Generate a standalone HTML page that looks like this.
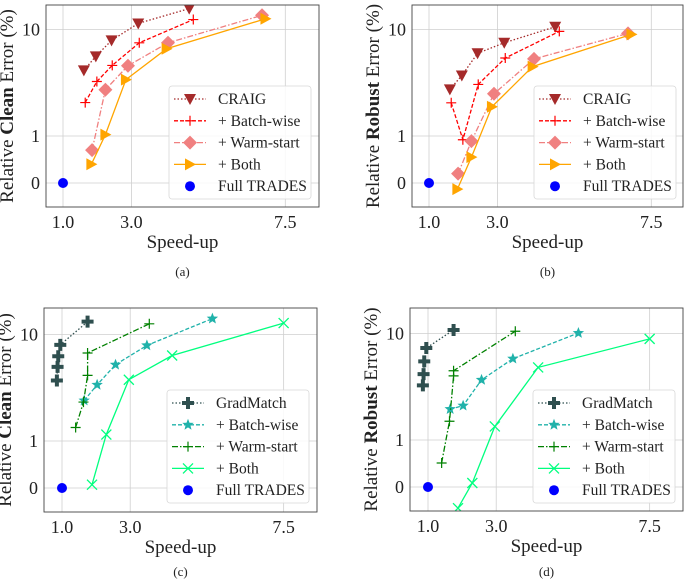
<!DOCTYPE html>
<html><head><meta charset="utf-8"><style>
html,body{margin:0;padding:0;background:#fff}
svg{display:block;font-family:"Liberation Serif",serif}
</style></head><body>
<svg id="fig" width="685" height="585" viewBox="0 0 685 585" xmlns="http://www.w3.org/2000/svg"></svg>
<script>
// ---- data ----
const xTicks=[1.0,3.0,7.5];
const xTickLabels=["1.0","3.0","7.5"];
const yTicks=[0,1,10];
const yTickLabels=["0","1","10"];
const craigX=[1.61,1.96,2.42,3.20,4.69];
const craigCleanY=[4.13,5.6,7.9,11.4,15.7];
const craigRobustY=[2.74,3.7,5.98,7.5,10.6];
const cBatchX=[1.65,1.99,2.44,3.23,4.81];
const cBatchCleanY=[2.06,3.25,4.6,7.5,12.4];
const cBatchRobustY=[2.05,0.92,3.05,5.4,9.6];
const cWarmX=[1.85,2.24,2.90,4.07,6.82];
const cWarmCleanY=[0.70,2.72,4.57,7.5,13.6];
const cWarmRobustY=[0.20,0.89,2.49,5.3,9.2];
const cBothX=[1.83,2.24,2.84,4.03,6.92];
const cBothCleanY=[0.40,1.03,3.38,6.6,12.6];
const cBothRobustY=[-0.13,0.55,1.88,4.48,9.0];
const gmX=[0.85,0.87,0.89,0.95,1.75];
const gmCleanY=[3.7,4.97,6.25,8.0,13.2];
const gmRobustY=[3.26,4.16,5.47,7.3,10.8];
const gBatchX=[1.65,2.03,2.57,3.49,5.41];
const gBatchCleanY=[2.4,3.37,5.2,7.9,14.1];
const gBatchRobustY=[1.95,2.10,3.67,5.8,10.1];
const gWarmX=[1.40,1.63,1.75,1.75,3.56];
const gWarmCleanY=[1.34,2.32,4.13,6.7,12.6];
const gWarmRobustY=[0.51,1.5,4.0,4.47,10.5];
const gBothX=[1.88,2.30,2.96,4.23,7.5];
const gBothCleanY=[0.07,1.15,3.76,6.35,12.8];
const gBothRobustY=[-0.45,0.085,1.34,4.8,8.9];
const fullX=[1.0];
const fullY=[0];

const NS="http://www.w3.org/2000/svg";
const svg=document.getElementById('fig');
function el(t,a,p){const e=document.createElementNS(NS,t);for(const k in a)e.setAttribute(k,a[k]);(p||svg).appendChild(e);return e;}

function marker(g,type,cx,cy,color){
  let m;
  if(type==='tri-down'){m=el('polygon',{points:`${cx-6},${cy-5} ${cx+6},${cy-5} ${cx},${cy+6}`,fill:color},g);}
  else if(type==='tri-right'){m=el('polygon',{points:`${cx-5},${cy-6} ${cx-5},${cy+6} ${cx+6},${cy}`,fill:color},g);}
  else if(type==='diamond'){m=el('polygon',{points:`${cx},${cy-7} ${cx+7},${cy} ${cx},${cy+7} ${cx-7},${cy}`,fill:color},g);}
  else if(type==='plus'){m=el('path',{d:`M${cx-5},${cy}H${cx+5}M${cx},${cy-5}V${cy+5}`,stroke:color,'stroke-width':1.2,fill:'none'},g);}
  else if(type==='P'){m=el('path',{d:`M${cx-2},${cy-6}h4v4h4v4h-4v4h-4v-4h-4v-4h4z`,fill:color},g);}
  else if(type==='star'){let p=[];for(let i=0;i<10;i++){const r=i%2?2.6:6,a=-Math.PI/2+i*Math.PI/5;p.push((cx+r*Math.cos(a)).toFixed(1)+','+(cy+r*Math.sin(a)).toFixed(1));}m=el('polygon',{points:p.join(' '),fill:color},g);}
  else if(type==='x'){m=el('path',{d:`M${cx-5},${cy-5}L${cx+5},${cy+5}M${cx-5},${cy+5}L${cx+5},${cy-5}`,stroke:color,'stroke-width':1.3,fill:'none'},g);}
  else if(type==='circle'){m=el('circle',{cx:cx,cy:cy,r:5,fill:color},g);}
  return m;
}

function panel(p){
  const g=el('g',{});
  
  
  const [L,T,R,B]=p.box;
  const sx=v=>p.x1+(v-1)*p.xk;
  const sy=v=>p.y0-(v<1? v*47 : 47+Math.log10(v)*106.5);
  const cid='clip'+p.id;
  const cp=el('clipPath',{id:cid},g);el('rect',{x:L,y:T,width:R-L,height:B-T},cp);
  xTicks.forEach((t,i)=>{
    const gl=el('line',{x1:sx(t),x2:sx(t),y1:T,y2:B,stroke:'#cfcfcf','stroke-width':0.8},g);
    
    const tl=el('text',{x:sx(t),y:B+21,'text-anchor':'middle','font-size':18,fill:'#222'},g);tl.textContent=xTickLabels[i];
    
  });
  yTicks.forEach((t,i)=>{
    const gl=el('line',{x1:L,x2:R,y1:sy(t),y2:sy(t),stroke:'#cfcfcf','stroke-width':0.8},g);
    
    const tl=el('text',{x:L-6,y:sy(t)+6,'text-anchor':'end','font-size':18,fill:'#222'},g);tl.textContent=yTickLabels[i];
    
  });
  const plot=el('g',{'clip-path':`url(#${cid})`},g);
  p.series.forEach(s=>{
    const sg=el('g',{},plot);
    
    if(s.dash!==null){
      const pts=s.x.map((v,i)=>sx(v).toFixed(1)+','+sy(s.y[i]).toFixed(1)).join(' ');
      const pl=el('polyline',{points:pts,fill:'none',stroke:s.color,'stroke-width':1.3,'stroke-dasharray':s.dash},sg);
      
    }
    s.x.forEach((v,i)=>{const m=marker(sg,s.m,sx(v),sy(s.y[i]),s.color);
      });
  });
  const fr=el('rect',{x:L,y:T,width:R-L,height:B-T,fill:'none',stroke:'#444','stroke-width':0.9},g);
  
  const [lx,ly,lw,lh]=p.leg;
  const lg=el('g',{},g);
  
  el('rect',{x:lx,y:ly,width:lw,height:lh,rx:3,fill:'rgba(255,255,255,0.85)',stroke:'#d8d8d8','stroke-width':0.8},lg);
  p.series.forEach((s,i)=>{
    const ey=ly+13+i*21.8;
    const eg=el('g',{},lg);
    
    if(s.dash!==null) el('line',{x1:lx+5,x2:lx+37,y1:ey,y2:ey,stroke:s.color,'stroke-width':1.3,'stroke-dasharray':s.dash},eg);
    marker(eg,s.m,lx+21,ey,s.color);
    const t=el('text',{x:lx+49,y:ey+5,'font-size':15.5,fill:'#222'},eg);t.textContent=s.label;
  });
  const xt=el('text',{x:(L+R)/2,y:B+41,'text-anchor':'middle','font-size':19,fill:'#222'},g);xt.textContent='Speed-up';
  
  const yx=L-33,yy=(T+B)/2;
  const yt=el('text',{x:yx,y:yy,'text-anchor':'middle','font-size':19,fill:'#222',transform:`rotate(-90 ${yx} ${yy})`},g);
  
  const a=el('tspan',{},yt);a.textContent='Relative ';
  const b=el('tspan',{'font-weight':'bold'},yt);b.textContent=p.kind;
  const c=el('tspan',{},yt);c.textContent=' Error (%)';
  const cap=el('text',{x:(L+R)/2,y:p.capY,'text-anchor':'middle','font-size':13,fill:'#222'},g);cap.textContent=p.cap;
  
}
function craigSeries(kind){
  const cl=kind==='Clean';
  return [
    {key:'craig',label:'CRAIG',x:craigX,y:cl?craigCleanY:craigRobustY,color:'#a52a2a',m:'tri-down',dash:'1.5,2'},
    {key:'batch-wise',label:'+ Batch-wise',x:cBatchX,y:cl?cBatchCleanY:cBatchRobustY,color:'#ff0000',m:'plus',dash:'4,2'},
    {key:'warm-start',label:'+ Warm-start',x:cWarmX,y:cl?cWarmCleanY:cWarmRobustY,color:'#f08080',m:'diamond',dash:'6,2,1.5,2'},
    {key:'both',label:'+ Both',x:cBothX,y:cl?cBothCleanY:cBothRobustY,color:'#ffa500',m:'tri-right',dash:'none'},
    {key:'full-trades',label:'Full TRADES',x:fullX,y:fullY,color:'#0000ff',m:'circle',dash:null}];
}
function gmSeries(kind){
  const cl=kind==='Clean';
  return [
    {key:'gradmatch',label:'GradMatch',x:gmX,y:cl?gmCleanY:gmRobustY,color:'#2f4f4f',m:'P',dash:'1.5,2'},
    {key:'batch-wise',label:'+ Batch-wise',x:gBatchX,y:cl?gBatchCleanY:gBatchRobustY,color:'#20b2aa',m:'star',dash:'4,2'},
    {key:'warm-start',label:'+ Warm-start',x:gWarmX,y:cl?gWarmCleanY:gWarmRobustY,color:'#008000',m:'plus',dash:'6,2,1.5,2'},
    {key:'both',label:'+ Both',x:gBothX,y:cl?gBothCleanY:gBothRobustY,color:'#00ff7f',m:'x',dash:'none'},
    {key:'full-trades',label:'Full TRADES',x:fullX,y:fullY,color:'#0000ff',m:'circle',dash:null}];
}
panel({id:'a',name:'panel-a-craig-clean',box:[46,5,319,207],x1:63,xk:34.2,y0:183,leg:[169,86,142,113],kind:'Clean',cap:'(a)',capY:276,series:craigSeries('Clean')});
panel({id:'b',name:'panel-b-craig-robust',box:[412,5,683,207],x1:429,xk:34.2,y0:183,leg:[534,86,142,113],kind:'Robust',cap:'(b)',capY:276,series:craigSeries('Robust')});
panel({id:'c',name:'panel-c-gradmatch-clean',box:[44,308,317,512],x1:62,xk:34.1,y0:488,leg:[167,390,142,113],kind:'Clean',cap:'(c)',capY:576,series:gmSeries('Clean')});
panel({id:'d',name:'panel-d-gradmatch-robust',box:[410,308,683,511],x1:428,xk:34.1,y0:487,leg:[533,390,142,113],kind:'Robust',cap:'(d)',capY:576,series:gmSeries('Robust')});
</script>
</body></html>
